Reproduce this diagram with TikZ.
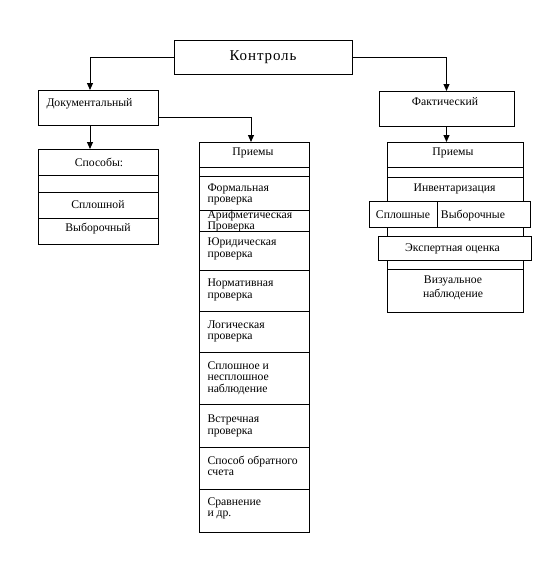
\documentclass[tikz,border=0pt]{standalone}
\usepackage{fontspec}
\setmainfont{Liberation Serif}
\usetikzlibrary{arrows.meta}
\newcommand{\twoline}[2]{\vtop{\baselineskip=11.5pt\lineskiplimit=-20pt\lineskip=0pt\hbox{#1}\hbox{#2}}}
\newcommand{\threeline}[3]{\vtop{\baselineskip=11.5pt\lineskiplimit=-20pt\lineskip=0pt\hbox{#1}\hbox{#2}\hbox{#3}}}
\begin{document}
\begin{tikzpicture}[x=1pt,y=-1pt,
  box/.style={draw, line width=1pt, anchor=north west, inner sep=0pt, outer sep=0pt},
  wbox/.style={box, fill=white},
  txt/.style={inner sep=0pt, outer sep=0pt, font=\fontsize{11.7}{11.7}\selectfont},
  arr/.style={line width=1pt, -{Triangle[length=7pt,width=6pt]}}]
\useasboundingbox (0,0) rectangle (554,568);
% top level
\node[box, minimum width=178pt, minimum height=34pt] (kontrol) at (174,40) {};
\node[box, minimum width=120pt, minimum height=35pt] (dok) at (38,90) {};
\node[box, minimum width=135pt, minimum height=35pt] (fakt) at (379,91) {};
% Sposoby
\node[box, minimum width=120pt, minimum height=26pt] (sp1) at (38,149) {};
\node[box, minimum width=120pt, minimum height=17pt] (sp2) at (38,175) {};
\node[box, minimum width=120pt, minimum height=26pt] (sp3) at (38,192) {};
\node[box, minimum width=120pt, minimum height=26pt] (sp4) at (38,218) {};
% middle list
\node[box, minimum width=110pt, minimum height=25pt] (m1) at (199,142) {};
\node[box, minimum width=110pt, minimum height=9pt] (m2) at (199,167) {};
\node[box, minimum width=110pt, minimum height=34pt] (m3) at (199,176) {};
\node[box, minimum width=110pt, minimum height=21pt] (m4) at (199,210) {};
\node[box, minimum width=110pt, minimum height=39pt] (m5) at (199,231) {};
\node[box, minimum width=110pt, minimum height=41pt] (m6) at (199,270) {};
\node[box, minimum width=110pt, minimum height=41pt] (m7) at (199,311) {};
\node[box, minimum width=110pt, minimum height=52pt] (m8) at (199,352) {};
\node[box, minimum width=110pt, minimum height=43pt] (m9) at (199,404) {};
\node[box, minimum width=110pt, minimum height=42pt] (m10) at (199,447) {};
\node[box, minimum width=110pt, minimum height=43pt] (m11) at (199,489) {};
% right column
\node[box, minimum width=136pt, minimum height=25pt] (r1) at (387,142) {};
\node[box, minimum width=136pt, minimum height=10pt] (r2) at (387,167) {};
\node[box, minimum width=136pt, minimum height=24pt] (r3) at (387,177) {};
\node[box, minimum width=136pt, minimum height=68pt] (r4) at (387,201) {};
\node[box, minimum width=136pt, minimum height=43pt] (r5) at (387,269) {};
\node[wbox, minimum width=68pt, minimum height=26pt] (rs) at (369,201) {};
\node[wbox, minimum width=93pt, minimum height=26pt] (rv) at (437,201) {};
\node[wbox, minimum width=153pt, minimum height=24pt] (re) at (378,236) {};
% connectors
\draw[arr] (kontrol.west) -| ([xshift=-8pt]dok.north);
\draw[arr] (kontrol.east) -| (fakt.north);
\draw[arr] ([xshift=-8pt]dok.south) -- ([xshift=-8pt]sp1.north);
\draw[arr] ([yshift=-9.5pt]dok.east) -| ([xshift=-3pt]m1.north);
\draw[arr] (fakt.south) -- (fakt.south |- r1.north);
% texts
\node[txt, anchor=base, font=\fontsize{15}{15}\selectfont] (tk) at (263,60) {\addfontfeature{LetterSpace=6}Контроль};
\node[txt, anchor=base west] (td) at (46.5,106) {Документальный};
\node[txt, anchor=base] (tf) at (445,105) {Фактический};
\node[txt, anchor=base] (ts1) at (99,166.7) {Способы:};
\node[txt, anchor=base] (ts3) at (98,208.3) {Сплошной};
\node[txt, anchor=base] (ts4) at (98,231.7) {Выборочный};
\node[txt, anchor=base] (tm1) at (253,155.7) {Приемы};
\node[txt, anchor=base west] (tm3) at (207.5,191) {\twoline{Формальная}{проверка}};
\node[txt, anchor=base west] (tm4) at (207.5,218.3) {\vtop{\baselineskip=10.7pt\lineskiplimit=-20pt\hbox{Арифметическая}\hbox{Проверка}}};
\node[txt, anchor=base west] (tm5) at (207.5,245.5) {\twoline{Юридическая}{проверка}};
\node[txt, anchor=base west] (tm6) at (207.5,286.5) {\twoline{Нормативная}{проверка}};
\node[txt, anchor=base west] (tm7) at (207.5,328) {\twoline{Логическая}{проверка}};
\node[txt, anchor=base west] (tm8) at (207.5,369) {\threeline{Сплошное и}{несплошное}{наблюдение}};
\node[txt, anchor=base west] (tm9) at (207.5,422.5) {\twoline{Встречная}{проверка}};
\node[txt, anchor=base west] (tm10) at (207.5,464) {\twoline{Способ обратного}{счета}};
\node[txt, anchor=base west] (tm11) at (207.5,505) {\twoline{Сравнение}{и др.}};
\node[txt, anchor=base] (tr1) at (453,155.7) {Приемы};
\node[txt, anchor=base] (tr3) at (454.5,191) {Инвентаризация};
\node[txt, anchor=base] (trs) at (403,218.3) {Сплошные};
\node[txt, anchor=base] (trv) at (473,218.3) {Выборочные};
\node[txt, anchor=base] (tre) at (452.5,251) {Экспертная оценка};
\node[txt, anchor=base] (tr5a) at (453,283.3) {Визуальное};
\node[txt, anchor=base] (tr5b) at (453,297.7) {наблюдение};
\end{tikzpicture}
\end{document}
